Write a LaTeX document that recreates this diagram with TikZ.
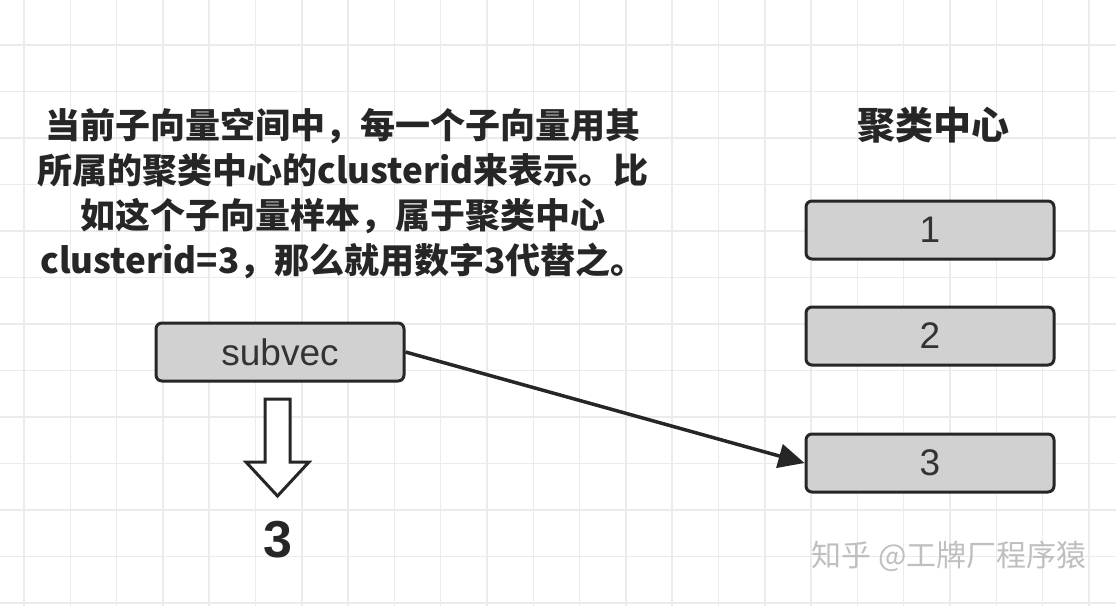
\documentclass[tikz,border=0pt]{standalone}
\usepackage{fontspec}
\setmainfont{Noto Sans CJK SC}
\newfontfamily\latinfont{Liberation Sans}
\usetikzlibrary{arrows.meta}
\begin{document}
\begin{tikzpicture}[x=1pt,y=-1pt,
  box/.style={draw=black!85,line width=3pt,rounded corners=6pt,fill=black!18,minimum width=248pt,minimum height=58pt,font=\latinfont\fontsize{37}{37}\selectfont,text=black!80,inner sep=0pt},
  txt/.style={font=\bfseries\fontsize{35}{45}\selectfont,text=black!85,align=center}]
\useasboundingbox (0,0) rectangle (1116,606);
\fill[white] (0,0) rectangle (1116,606);
\foreach \i in {0,...,24} \draw[black!8,line width=1.5pt] (24+\i*46.3,0) -- (24+\i*46.3,606);
\foreach \i in {0,...,13} \draw[black!8,line width=1.5pt] (0,-1.5+\i*46.5) -- (1116,-1.5+\i*46.5);
\node[txt] (desc) at (343,194) {当前子向量空间中，每一个子向量用其\\所属的聚类中心的clusterid来表示。比\\如这个子向量样本，属于聚类中心\\clusterid=3，那么就用数字3代替之。};
\node[txt,font=\bfseries\fontsize{38}{38}\selectfont] (title) at (933,125) {聚类中心};
\node[box] (sv) at (280,352) {subvec};
\node[box] (c1) at (930,230) {1};
\node[box] (c2) at (930,336) {2};
\node[box] (c3) at (930,463) {3};
\draw[black!85,line width=3.5pt,-{Triangle[length=26pt,width=24pt]}] (sv.east) -- (c3.west);
\draw[black!85,line width=3pt,fill=white,line join=miter] (265,399) -- (290,399) -- (290,462) -- (309,462) -- (277.5,496) -- (246,462) -- (265,462) -- cycle;
\node[font=\latinfont\bfseries\fontsize{52}{52}\selectfont,text=black!85] (three) at (278,540) {3};
\node[font=\fontsize{30}{30}\selectfont,text=black!25,anchor=east] (wm) at (1090,556) {知乎 @工牌厂程序猿};
\end{tikzpicture}
\end{document}
